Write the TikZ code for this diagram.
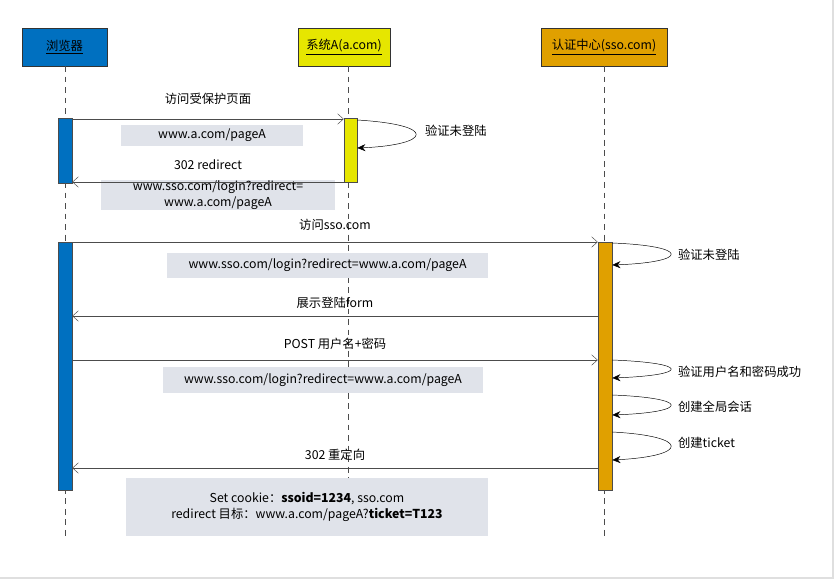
\documentclass[tikz,border=0pt]{standalone}
\usepackage{fontspec}
\setmainfont{Noto Sans CJK SC}
\usetikzlibrary{arrows.meta}
\definecolor{notec}{RGB}{224,227,234}
\begin{document}
\begin{tikzpicture}[x=0.03cm,y=-0.03cm,font=\fontsize{10.5}{12}\selectfont,
 head/.style={draw=black!80,thick,minimum height=38*0.03cm,inner sep=0pt},
 life/.style={black!70,dashed,dash pattern=on 5pt off 4pt},
 act/.style={draw=black!70,minimum width=14*0.03cm,inner sep=0pt},
 msg/.style={black!70,-{Straight Barb[length=5pt,width=9pt]}},
 self/.style={black,-{Stealth[length=7pt,width=6pt]}},
 note/.style={fill=notec,inner sep=0pt,align=center,font=\fontsize{10.5}{13.5}\selectfont}]
\useasboundingbox (0,0) rectangle (835,580);
\draw[gray!25,line width=2pt] (833,0) -- (833,578) -- (0,578);
% headers
\node[head,fill={rgb,255:red,0;green,112;blue,192},minimum width=85*0.03cm] (hb) at (64.5,47) {\underline{浏览器}};
\node[head,fill={rgb,255:red,230;green,230;blue,0},minimum width=92*0.03cm] (ha) at (344,47) {\underline{系统A(a.com)}};
\node[head,fill={rgb,255:red,224;green,160;blue,0},minimum width=126*0.03cm] (hs) at (604,47) {\underline{认证中心(sso.com)}};
\coordinate (eb) at (65,540); \coordinate (ea) at (348,540); \coordinate (es) at (604,540);
\draw[life] (65,66) -- (eb); \draw[life] (348,66) -- (ea); \draw[life] (604,66) -- (es);
% activations
\node[act,fill={rgb,255:red,0;green,112;blue,192},minimum height=65*0.03cm] (b1) at (65,150.5) {};
\node[act,fill={rgb,255:red,0;green,112;blue,192},minimum height=248*0.03cm] (b2) at (65,366) {};
\node[act,fill={rgb,255:red,230;green,230;blue,0},minimum width=13*0.03cm,minimum height=64*0.03cm] (a1) at (350.5,150) {};
\node[act,fill={rgb,255:red,224;green,160;blue,0},minimum height=248*0.03cm] (s1) at (605,366) {};
% notes
\node[note,minimum width=182*0.03cm,minimum height=21*0.03cm] (n1) at (212,135.5) {www.a.com/pageA};
\node[note,minimum width=234*0.03cm,minimum height=30*0.03cm] (n2) at (218,195) {www.sso.com/login?redirect=\\www.a.com/pageA};
\node[note,minimum width=321*0.03cm,minimum height=25*0.03cm] (n3) at (327.5,265.5) {www.sso.com/login?redirect=www.a.com/pageA};
\node[note,minimum width=320*0.03cm,minimum height=26*0.03cm] (n4) at (323,380) {www.sso.com/login?redirect=www.a.com/pageA};
\node[note,minimum width=362*0.03cm,minimum height=58*0.03cm] (n5) at (307,507) {Set cookie：\textbf{ssoid=1234}, sso.com\\redirect 目标：www.a.com/pageA?\textbf{ticket=T123}};
% messages
\draw[msg] (b1.north east|-0,119) -- (a1.west|-0,119) node[midway,above=9pt,black] (m1) {访问受保护页面};
\draw[msg] (a1.west|-0,182) -- (b1.east|-0,182) node[midway,above=7pt,black] (m2) {302 redirect};
\draw[msg] (b2.east|-0,242) -- (s1.west|-0,242) node[midway,above=6pt,black] (m3) {访问sso.com};
\draw[msg] (s1.west|-0,316) -- (b2.east|-0,316) node[midway,above=3pt,black] (m4) {展示登陆form};
\draw[msg] (b2.east|-0,360) -- (s1.west|-0,360) node[midway,above=5pt,black] (m5) {POST 用户名+密码};
\draw[msg] (s1.west|-0,468) -- (b2.east|-0,468) node[midway,above=3pt,black] (m6) {302 重定向};
% self calls
\draw[self] (a1.east|-0,120) .. controls (440,125) and (430,145) .. (a1.east|-0,148);
\node[anchor=west] (l1) at (421,131) {验证未登陆};
\draw[self] (s1.east|-0,243) .. controls (690,246) and (690,262) .. (s1.east|-0,265);
\node[anchor=west] (l2) at (674,255) {验证未登陆};
\draw[self] (s1.east|-0,360) .. controls (690,363) and (690,375) .. (s1.east|-0,378);
\node[anchor=west] (l3) at (674,372) {验证用户名和密码成功};
\draw[self] (s1.east|-0,395) .. controls (690,398) and (690,412) .. (s1.east|-0,415);
\node[anchor=west] (l4) at (674,407) {创建全局会话};
\draw[self] (s1.east|-0,432) .. controls (690,436) and (690,456) .. (s1.east|-0,460);
\node[anchor=west] (l5) at (674,443) {创建ticket};
\end{tikzpicture}
\end{document}
